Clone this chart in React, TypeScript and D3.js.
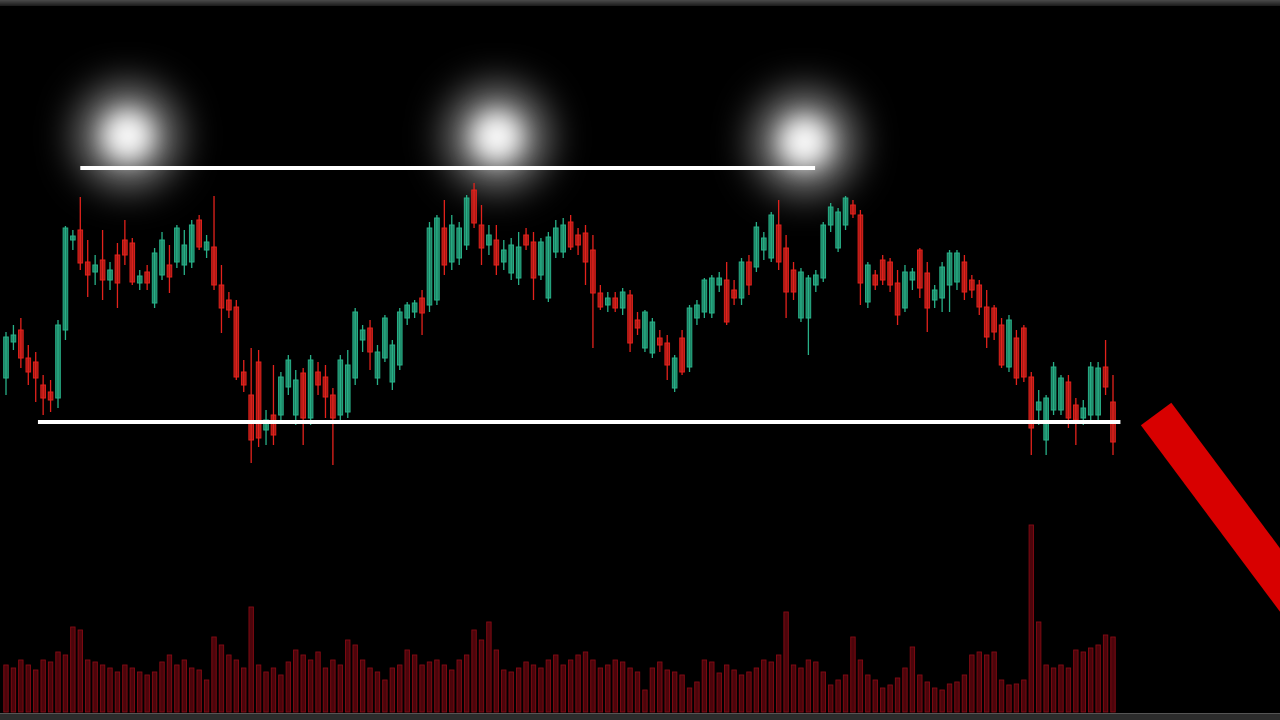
import React from "react";
import * as d3 from "d3";

// candle prices (one entry per session)
const opens = [
  122, 158, 170, 142, 138, 115, 108, 102, 170, 260, 270, 238, 228, 240, 220, 245, 260, 257, 217, 228,
  197, 225, 235, 238, 235, 238, 280, 250, 253, 215, 200, 193, 128, 105, 138, 70, 85, 85, 113, 85,
  127, 82, 128, 123, 105, 85, 88, 122, 160, 172, 122, 142, 118, 135, 182, 188, 202, 195, 200, 272,
  238, 242, 255, 310, 275, 255, 260, 238, 227, 222, 265, 258, 225, 202, 248, 248, 278, 265, 267, 250,
  207, 195, 202, 192, 205, 180, 152, 147, 162, 157, 112, 162, 133, 182, 188, 187, 215, 220, 210, 202,
  238, 233, 250, 242, 275, 252, 230, 182, 182, 215, 222, 275, 252, 275, 295, 285, 198, 225, 240, 238,
  217, 192, 220, 250, 227, 200, 202, 215, 218, 238, 220, 215, 193, 192, 175, 133, 162, 172, 123, 90,
  60, 90, 90, 118, 95, 82, 85, 85, 133, 98,
];
const highs = [
  168, 175, 182, 155, 148, 125, 120, 180, 274, 270, 303, 260, 245, 270, 238, 257, 280, 262, 230, 235,
  252, 268, 255, 275, 270, 280, 285, 265, 304, 235, 208, 200, 140, 152, 150, 90, 135, 128, 145, 130,
  132, 145, 138, 135, 112, 145, 150, 192, 175, 180, 155, 185, 160, 192, 198, 200, 210, 278, 285, 300,
  285, 278, 305, 317, 295, 275, 275, 260, 262, 268, 272, 268, 262, 268, 280, 282, 285, 272, 275, 265,
  215, 208, 208, 212, 210, 188, 190, 182, 170, 165, 145, 170, 195, 200, 222, 225, 228, 238, 220, 242,
  245, 278, 268, 288, 300, 265, 238, 232, 225, 230, 278, 297, 292, 304, 300, 290, 238, 230, 245, 242,
  230, 235, 232, 252, 238, 215, 238, 250, 250, 245, 225, 220, 210, 195, 182, 185, 170, 175, 128, 110,
  105, 138, 125, 125, 102, 100, 138, 138, 160, 125,
];
const lows = [
  105, 150, 132, 115, 98, 85, 88, 92, 160, 250, 230, 203, 215, 200, 210, 192, 235, 215, 210, 210,
  192, 220, 207, 232, 225, 232, 250, 242, 210, 167, 182, 120, 108, 37, 53, 55, 55, 80, 105, 75,
  55, 75, 105, 82, 35, 80, 82, 115, 148, 130, 115, 138, 110, 130, 175, 182, 165, 188, 195, 225,
  230, 235, 250, 272, 235, 245, 225, 230, 220, 215, 250, 200, 220, 198, 242, 242, 250, 245, 215, 152,
  190, 188, 188, 185, 148, 165, 148, 142, 148, 120, 108, 125, 128, 175, 182, 182, 208, 175, 195, 195,
  205, 228, 240, 238, 230, 182, 200, 178, 145, 208, 218, 268, 248, 270, 282, 195, 192, 210, 215, 208,
  175, 188, 210, 202, 168, 192, 188, 188, 210, 200, 202, 185, 152, 160, 132, 128, 115, 118, 45, 75,
  45, 85, 85, 72, 55, 75, 80, 80, 105, 45,
];
const closes = [
  163, 165, 142, 128, 122, 102, 100, 175, 272, 264, 237, 225, 235, 220, 230, 217, 245, 218, 224, 217,
  247, 260, 223, 272, 255, 275, 253, 258, 215, 192, 190, 123, 115, 60, 62, 80, 65, 123, 140, 120,
  82, 140, 115, 103, 82, 140, 135, 188, 170, 148, 148, 182, 155, 188, 195, 197, 187, 272, 282, 235,
  275, 272, 302, 277, 252, 265, 235, 250, 255, 253, 255, 222, 258, 263, 272, 275, 253, 255, 238, 207,
  193, 202, 192, 208, 157, 172, 188, 178, 155, 135, 142, 128, 192, 195, 220, 222, 222, 178, 202, 238,
  215, 273, 262, 285, 238, 208, 208, 228, 222, 225, 275, 293, 288, 302, 286, 217, 235, 215, 220, 215,
  185, 228, 228, 212, 192, 210, 233, 247, 247, 208, 210, 193, 163, 168, 135, 180, 122, 123, 72, 98,
  102, 133, 122, 82, 80, 92, 133, 132, 113, 58,
];
const volumes = [
  47, 44, 52, 47, 42, 52, 50, 60, 57, 85, 82, 52, 50, 47, 44, 40, 47, 44, 40, 37,
  40, 50, 57, 47, 52, 44, 42, 32, 75, 67, 57, 52, 44, 105, 47, 40, 44, 37, 50, 62,
  57, 52, 60, 44, 52, 47, 72, 67, 52, 44, 40, 32, 44, 47, 62, 57, 47, 50, 52, 47,
  42, 52, 57, 82, 72, 90, 62, 42, 40, 44, 50, 47, 44, 52, 57, 47, 52, 57, 60, 52,
  44, 47, 52, 50, 44, 40, 22, 44, 50, 42, 40, 37, 24, 30, 52, 50, 39, 47, 42, 37,
  40, 44, 52, 50, 57, 100, 47, 44, 52, 50, 40, 27, 32, 37, 75, 52, 37, 32, 24, 27,
  34, 44, 65, 37, 30, 24, 22, 28, 30, 37, 57, 60, 57, 60, 32, 27, 28, 32, 187, 90,
  47, 44, 47, 44, 62, 60, 64, 67, 77, 75,
];

// triple top levels and annotations (index / price units)
const resistance = { level: 332, from: 10, to: 108.9 };
const support = { level: 78, from: 4.3, to: 150 };
const glowSpots = [
  { idx: 16.4, price: 364 },
  { idx: 66.1, price: 363 },
  { idx: 107.5, price: 358 },
];
const arrow = { from: [154.8, 86], to: [175.5, -120] };

const W = 1280;
const H = 720;
const UP = "#28b088";
const DOWN = "#e3221c";

export default function App() {
  const n = closes.length;
  const x = d3.scaleLinear().domain([0, n - 1]).range([6, 1113]);
  const y = d3.scaleLinear().domain([0, 500]).range([500, 0]);
  const v = d3.scaleLinear().domain([0, 200]).range([712, 512]);
  const bodyW = 4.6;
  const volW = 4.4;

  const candles = d3.range(n).map((i) => ({
    i,
    o: opens[i],
    h: highs[i],
    l: lows[i],
    c: closes[i],
    vol: volumes[i],
  }));

  return (
    <svg
      width={W}
      height={H}
      style={{ position: "fixed", left: 0, top: 0, background: "#000" }}
    >
      <defs>
        <filter id="soft" x="-150%" y="-150%" width="400%" height="400%">
          <feGaussianBlur stdDeviation={20} />
        </filter>
        <filter id="core" x="-150%" y="-150%" width="400%" height="400%">
          <feGaussianBlur stdDeviation={11} />
        </filter>
        <linearGradient id="topbar" x1="0" x2="0" y1="0" y2="1">
          <stop offset="0%" stopColor="#4a4a4a" />
          <stop offset="100%" stopColor="#1a1a1a" />
        </linearGradient>
      </defs>
      <rect width={W} height={H} fill="#000" />
      <rect width={W} height={6} fill="url(#topbar)" />

      {/* volume */}
      <g>
        {candles.map((d) => (
          <rect
            key={"v" + d.i}
            x={x(d.i) - volW / 2}
            y={v(d.vol)}
            width={volW}
            height={v(0) - v(d.vol)}
            fill="#4c050b"
            stroke="#860b14"
            strokeWidth={0.9}
          />
        ))}
      </g>

      {/* glows behind the peaks */}
      {glowSpots.map((g, k) => (
        <g key={"g" + k}>
          <circle cx={x(g.idx)} cy={y(g.price)} r={50} fill="#fff" fillOpacity={0.55} filter="url(#soft)" />
          <circle cx={x(g.idx)} cy={y(g.price)} r={24} fill="#fff" fillOpacity={0.95} filter="url(#core)" />
        </g>
      ))}

      {/* candles */}
      <g>
        {candles.map((d) => {
          const col = d.c >= d.o ? UP : DOWN;
          const top = y(Math.max(d.o, d.c));
          const bot = y(Math.min(d.o, d.c));
          return (
            <g key={"c" + d.i}>
              <line x1={x(d.i)} x2={x(d.i)} y1={y(d.h)} y2={y(d.l)} stroke={col} strokeWidth={1.3} />
              <rect
                x={x(d.i) - bodyW / 2}
                y={top}
                width={bodyW}
                height={Math.max(1.5, bot - top)}
                fill={col}
                fillOpacity={0.7}
                stroke={col}
                strokeWidth={1}
              />
            </g>
          );
        })}
      </g>

      {/* levels */}
      <line
        x1={x(resistance.from)}
        x2={x(resistance.to)}
        y1={y(resistance.level)}
        y2={y(resistance.level)}
        stroke="#fff"
        strokeWidth={4}
      />
      <line
        x1={x(support.from)}
        x2={x(support.to)}
        y1={y(support.level)}
        y2={y(support.level)}
        stroke="#fff"
        strokeWidth={4}
      />

      {/* breakdown arrow */}
      <line
        x1={x(arrow.from[0])}
        y1={y(arrow.from[1])}
        x2={x(arrow.to[0])}
        y2={y(arrow.to[1])}
        stroke="#d80000"
        strokeWidth={38}
      />

      <rect y={713} width={W} height={7} fill="#2c2c2c" />
      <line x1={0} x2={W} y1={713.5} y2={713.5} stroke="#555" strokeWidth={1} />
    </svg>
  );
}
